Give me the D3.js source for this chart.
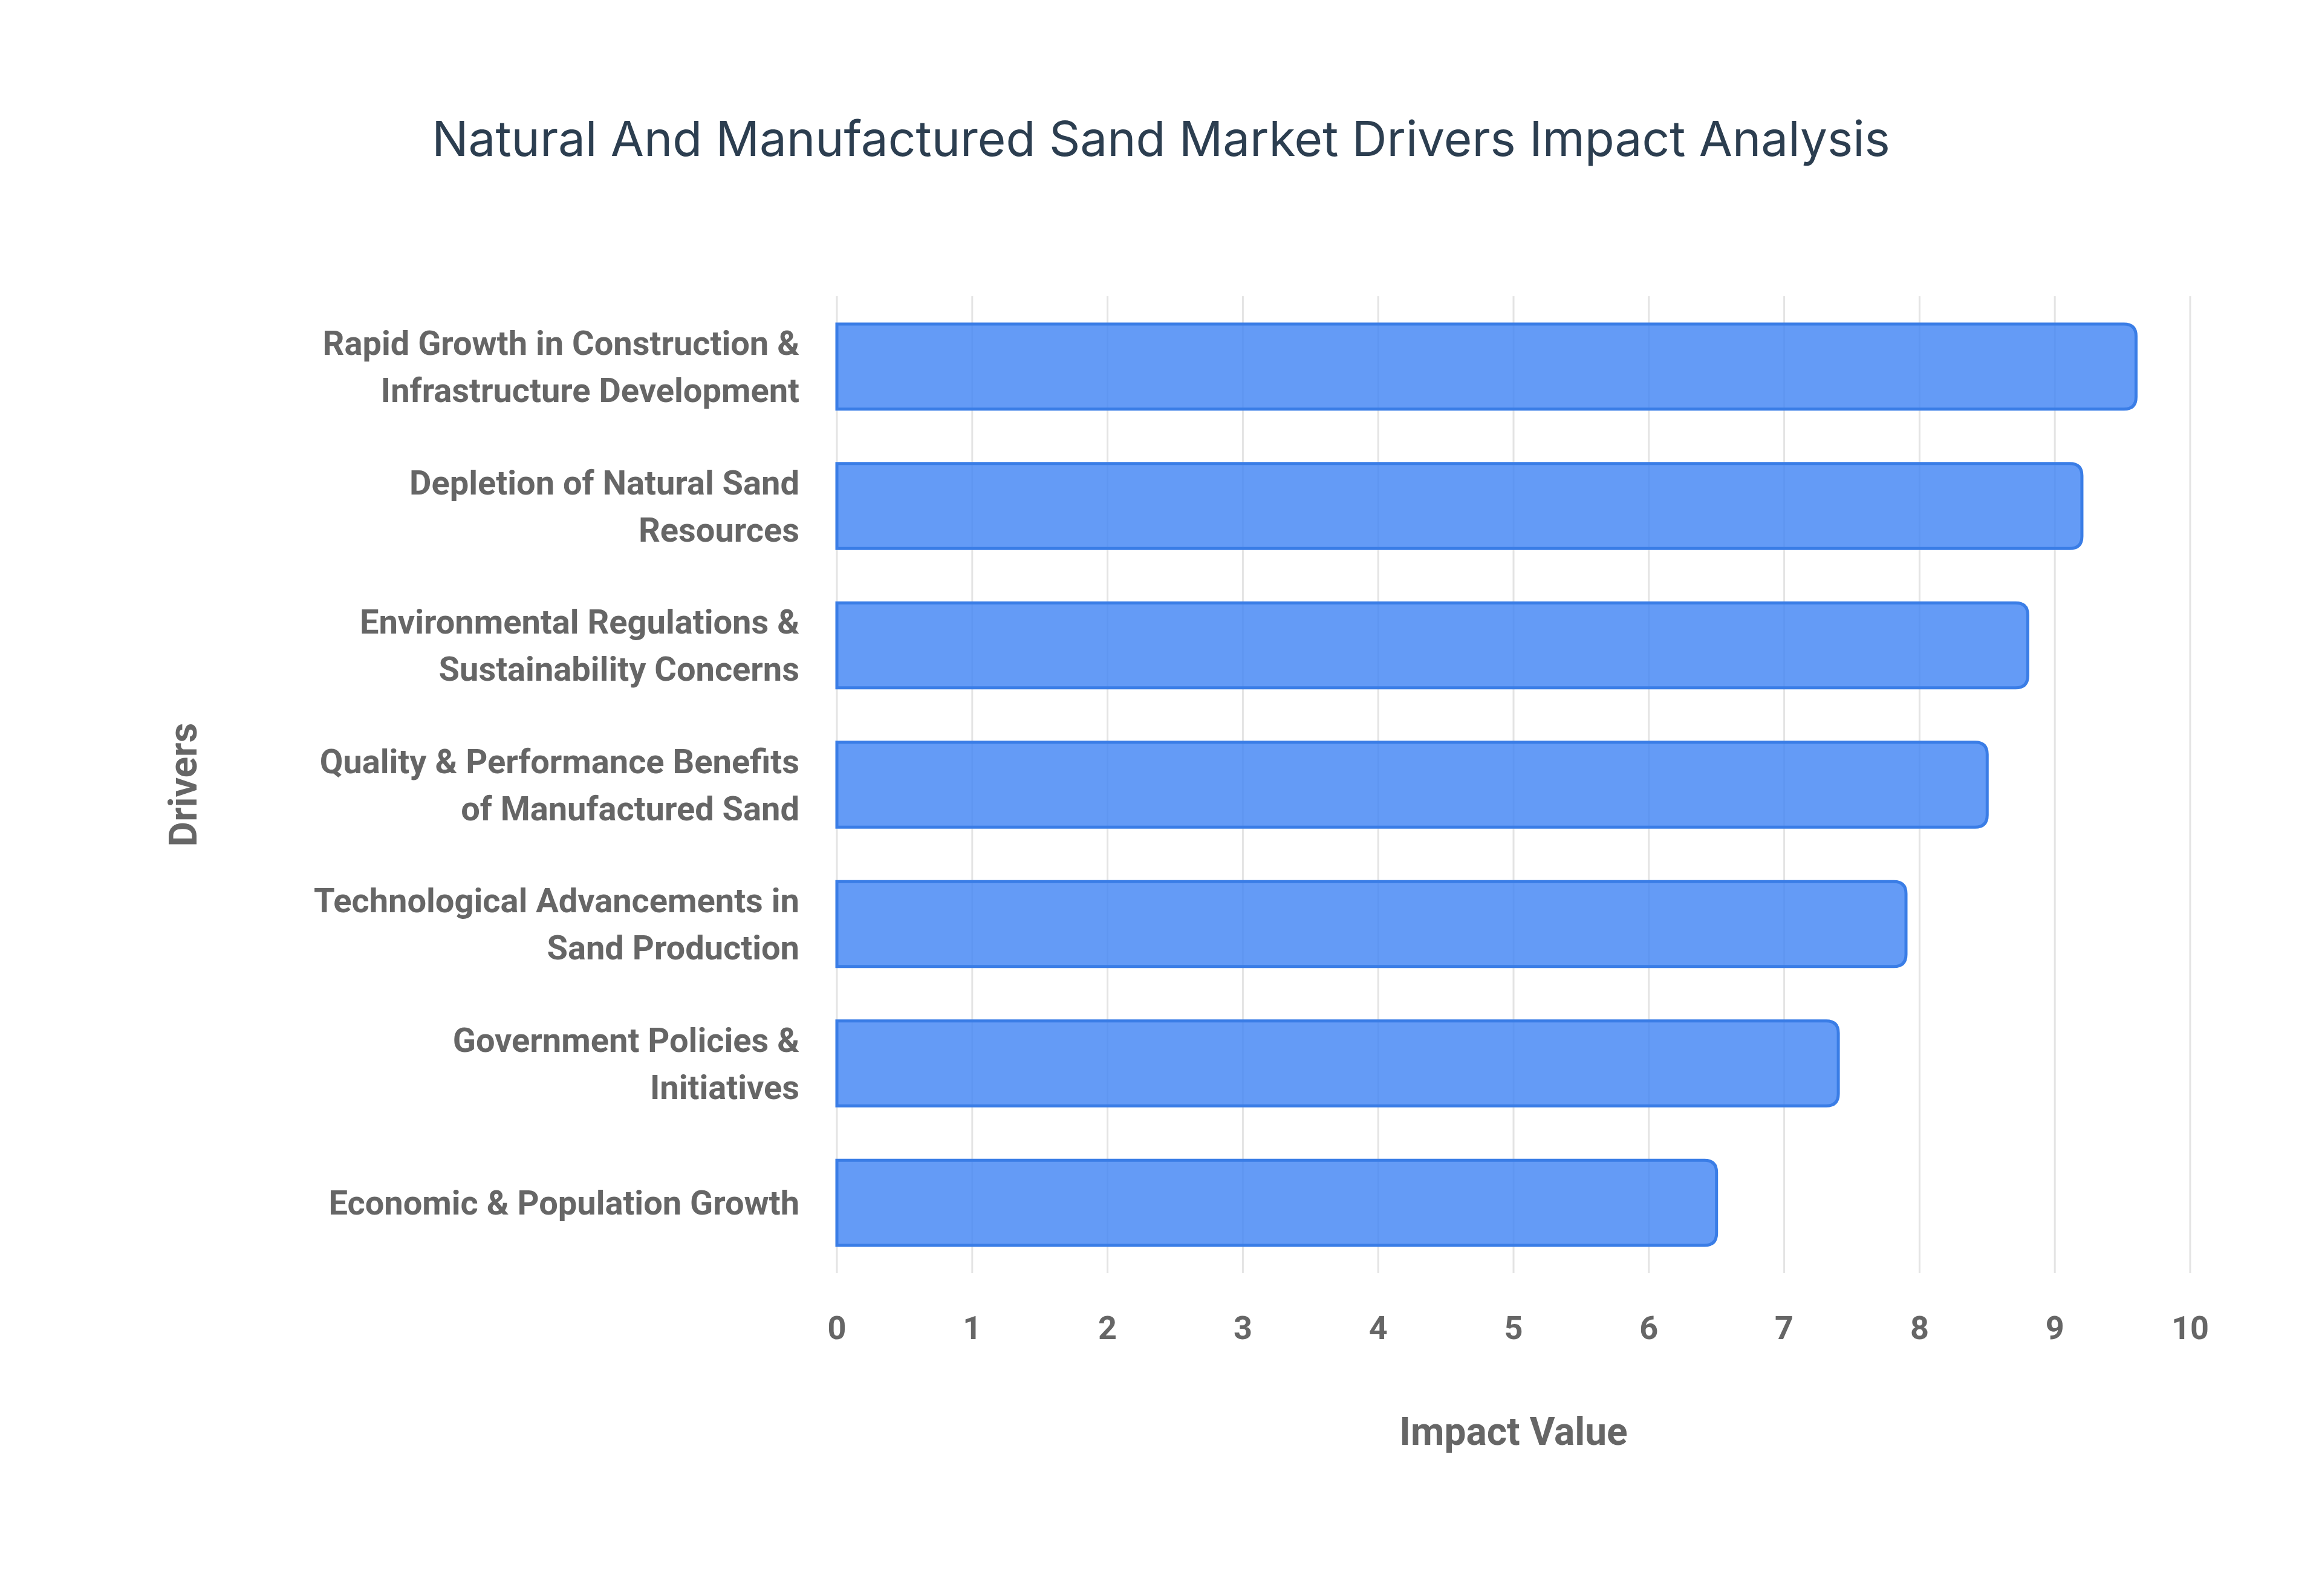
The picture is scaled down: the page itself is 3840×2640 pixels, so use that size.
<!DOCTYPE html>
<html><head><meta charset="utf-8">
<script src="https://cdn.jsdelivr.net/npm/d3@7"></script>
<style>body{margin:0;background:#fff}</style>
</head><body>
<svg id="chart" width="3840" height="2640"></svg>
<script>
const drivers = [
  ["Rapid Growth in Construction &", "Infrastructure Development"],
  ["Depletion of Natural Sand", "Resources"],
  ["Environmental Regulations &", "Sustainability Concerns"],
  ["Quality & Performance Benefits", "of Manufactured Sand"],
  ["Technological Advancements in", "Sand Production"],
  ["Government Policies &", "Initiatives"],
  ["Economic & Population Growth"]
];
const impact = [9.6, 9.2, 8.8, 8.5, 7.9, 7.4, 6.5];
const xTicks = [0,1,2,3,4,5,6,7,8,9,10];

const svg = d3.select("#chart");
const plotLeft = 1384, plotRight = 3622, plotTop = 490, plotBottom = 2106;

const x = d3.scaleLinear().domain([0, 10]).range([plotLeft, plotRight]);
const y = d3.scaleBand().domain(d3.range(drivers.length)).range([plotTop, plotBottom]).paddingInner(0.39).paddingOuter(0.2);

// gridlines
svg.append("g").selectAll("line").data(xTicks).join("line")
  .attr("x1", d => x(d)).attr("x2", d => x(d))
  .attr("y1", plotTop).attr("y2", plotBottom)
  .attr("stroke", "#e4e4e4").attr("stroke-width", 3);

// bars with rounded right end
const r = 20;
svg.append("g").selectAll("path").data(impact).join("path")
  .attr("d", (d, i) => {
    const x0 = x(0), x1 = x(d), y0 = y(i), h = y.bandwidth();
    return `M${x0},${y0}H${x1 - r}Q${x1},${y0} ${x1},${y0 + r}V${y0 + h - r}Q${x1},${y0 + h} ${x1 - r},${y0 + h}H${x0}Z`;
  })
  .attr("fill", "rgba(66,133,244,0.82)")
  .attr("stroke", "#3a7de6").attr("stroke-width", 5);

// x tick labels
svg.append("g").selectAll("text").data(xTicks).join("text")
  .attr("x", d => x(d)).attr("y", 2215)
  .attr("text-anchor", "middle")
  .attr("font-family", "Roboto, 'Liberation Sans', sans-serif")
  .attr("font-weight", "bold").attr("font-size", 54).attr("fill", "#666")
  .text(d => d);

// y labels
const yl = svg.append("g").selectAll("text").data(drivers).join("text")
  .attr("text-anchor", "end")
  .attr("font-family", "Roboto, 'Liberation Sans', sans-serif")
  .attr("font-weight", "bold").attr("font-size", 56).attr("fill", "#666")
  .attr("transform", (d, i) => `translate(1322,${y(i) + y.bandwidth() / 2})`);
yl.each(function (d) {
  const t = d3.select(this);
  const lh = 78, start = -(d.length - 1) * lh / 2;
  d.forEach((line, k) => t.append("tspan").attr("x", 0).attr("y", start + k * lh).attr("dy", "0.35em").text(line));
});

// axis titles
svg.append("text").attr("x", (plotLeft + plotRight) / 2).attr("y", 2390)
  .attr("text-anchor", "middle")
  .attr("font-family", "Roboto, 'Liberation Sans', sans-serif")
  .attr("font-weight", "bold").attr("font-size", 64).attr("fill", "#666")
  .text("Impact Value");
svg.append("text").attr("transform", `translate(325,${(plotTop + plotBottom) / 2}) rotate(-90)`)
  .attr("text-anchor", "middle")
  .attr("font-family", "Roboto, 'Liberation Sans', sans-serif")
  .attr("font-weight", "bold").attr("font-size", 64).attr("fill", "#666")
  .text("Drivers");

// title
svg.append("text").attr("x", 1920).attr("y", 258)
  .attr("text-anchor", "middle")
  .attr("font-family", "Inter, 'Noto Sans', sans-serif")
  .attr("font-size", 80).attr("fill", "#2c3e50")
  .text("Natural And Manufactured Sand Market Drivers Impact Analysis");
</script>
</body></html>
